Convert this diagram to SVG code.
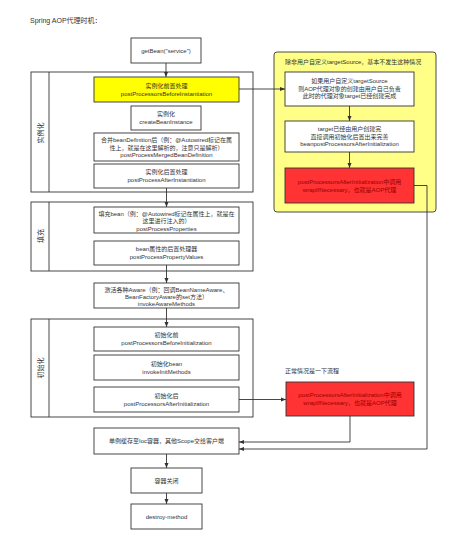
<svg xmlns="http://www.w3.org/2000/svg" width="474" height="542" viewBox="0 0 474 542">
<style>
text{font-family:"Liberation Sans","Noto Sans CJK SC",sans-serif;font-size:6px;fill:#333;text-anchor:middle}
.box{fill:#fff;stroke:#333;stroke-width:0.9}
.lane{fill:none;stroke:#333;stroke-width:0.9}
.yel{fill:#ffff00;stroke:#333;stroke-width:0.9}
.red{fill:#ff3333;stroke:#333;stroke-width:0.9}
.redt{fill:#990000}
.con{fill:none;stroke:#333;stroke-width:0.9}
.lbl{font-size:7px}
.left{text-anchor:start}
</style>
<defs>
<marker id="arr" viewBox="0 0 10 10" refX="10" refY="5" markerWidth="5" markerHeight="5" orient="auto" markerUnits="userSpaceOnUse">
<path d="M0,1 L10,5 L0,9 Z" fill="#333"/>
</marker>
</defs>
<rect width="474" height="542" fill="#fff"/>
<text x="30" y="23" class="left" style="font-size:7px">Spring AOP代理时机：</text>

<g id="lane-instantiate">
<rect class="lane" x="31" y="72" width="222" height="120"/>
<line class="lane" x1="49" y1="72" x2="49" y2="192"/>
<text class="lbl" transform="translate(42.5,133) rotate(-90)">实例化</text>
</g>
<g id="lane-populate">
<rect class="lane" x="31" y="202" width="222" height="69"/>
<line class="lane" x1="49" y1="202" x2="49" y2="271"/>
<text class="lbl" transform="translate(42.5,236) rotate(-90)">填充</text>
</g>
<g id="lane-init">
<rect class="lane" x="31" y="319" width="222" height="98"/>
<line class="lane" x1="49" y1="319" x2="49" y2="417"/>
<text class="lbl" transform="translate(42.5,368) rotate(-90)">初始化</text>
</g>

<g id="getBean">
<rect class="box" x="131" y="38" width="70" height="25"/>
<text x="166" y="52.5">getBean("service")</text>
</g>
<g id="beforeInstantiation">
<rect class="yel" x="94" y="77" width="145" height="25"/>
<text x="166.5" y="87.5">实例化前置处理</text>
<text x="166.5" y="95.5">postProcessorsBeforeInstantiation</text>
</g>
<g id="createBeanInstance">
<rect class="box" x="131" y="106" width="70" height="24"/>
<text x="166" y="116">实例化</text>
<text x="166" y="124">createBeanInstance</text>
</g>
<g id="mergedBeanDefinition">
<rect class="box" x="94" y="133" width="145" height="28"/>
<text x="166.5" y="142">合并beanDefinition后（例：@Autowired标记在属</text>
<text x="166.5" y="149.5">性上，就是在这里解析的，注意只是解析）</text>
<text x="166.5" y="157">postProcessMergedBeanDefinition</text>
</g>
<g id="afterInstantiation">
<rect class="box" x="94" y="164" width="145" height="24"/>
<text x="166.5" y="174">实例化后置处理</text>
<text x="166.5" y="182">postProcessAfterInstantiation</text>
</g>
<g id="populateBean">
<rect class="box" x="94" y="207" width="145" height="26"/>
<text x="166.5" y="215.5">填充bean（例：@Autowired标记在属性上，就是在</text>
<text x="166.5" y="223">这里进行注入的）</text>
<text x="166.5" y="230.5">postProcessProperties</text>
</g>
<g id="propertyValues">
<rect class="box" x="94" y="241" width="145" height="24"/>
<text x="166.5" y="251">bean属性的后置处理器</text>
<text x="166.5" y="259">postProcessPropertyValues</text>
</g>
<g id="invokeAwareMethods">
<rect class="box" x="94" y="283" width="145" height="25"/>
<text x="166.5" y="291.5">激活各种Aware（例：回调BeanNameAware、</text>
<text x="166.5" y="299">BeanFactoryAware的set方法）</text>
<text x="166.5" y="306">invokeAwareMethods</text>
</g>
<g id="beforeInitialization">
<rect class="box" x="94" y="327" width="145" height="24"/>
<text x="166.5" y="337">初始化前</text>
<text x="166.5" y="345">postProcessorsBeforeInitialization</text>
</g>
<g id="invokeInitMethods">
<rect class="box" x="94" y="355" width="145" height="25"/>
<text x="166.5" y="365.5">初始化bean</text>
<text x="166.5" y="373.5">invokeInitMethods</text>
</g>
<g id="afterInitialization">
<rect class="box" x="94" y="387" width="145" height="25"/>
<text x="166.5" y="397.5">初始化后</text>
<text x="166.5" y="405.5">postProcessorsAfterInitialization</text>
</g>
<g id="singleton">
<rect class="box" x="94" y="428" width="145" height="26"/>
<text x="166.5" y="443">单例缓存至Ioc容器，其他Scope交给客户端</text>
</g>
<g id="close">
<rect class="box" x="131" y="468" width="71" height="25"/>
<text x="166.5" y="482.5">容器关闭</text>
</g>
<g id="destroy">
<rect class="box" x="131" y="504" width="71" height="25"/>
<text x="166.5" y="518.5">destroy-method</text>
</g>

<g id="customTargetSource">
<rect x="274" y="52" width="162" height="160" rx="3" fill="#ffff88" stroke="#36393d" stroke-width="0.9"/>
<text x="285" y="64" class="left">除非用户自定义targetSource，基本不发生这种情况</text>
</g>
<g id="custom1">
<rect class="box" x="285" y="72" width="129" height="34"/>
<text x="349.5" y="83">如果用户自定义targetSource</text>
<text x="349.5" y="90.5">则AOP代理对象的创建由用户自己负责</text>
<text x="349.5" y="98">此时的代理对象target已经创建完成</text>
</g>
<g id="custom2">
<rect class="box" x="285" y="121" width="129" height="31"/>
<text x="349.5" y="131">target已经由用户创建完</text>
<text x="349.5" y="138.5">直接调用初始化后置出来完善</text>
<text x="349.5" y="146">beanpostProcessorsAfterInitialization</text>
</g>
<g id="red1">
<rect class="red" x="285" y="168" width="129" height="35"/>
<text class="redt" x="349.5" y="183.5">postProcessorsAfterInitialization中调用</text>
<text class="redt" x="349.5" y="191.5">wrapIfNecessary，也就是AOP代理</text>
</g>
<g id="normalLabel">
<text x="285" y="373" class="left">正常情况是一下流程</text>
</g>
<g id="red2">
<rect class="red" x="286" y="382" width="128" height="34"/>
<text class="redt" x="350" y="397">postProcessorsAfterInitialization中调用</text>
<text class="redt" x="350" y="405">wrapIfNecessary，也就是AOP代理</text>
</g>

<g id="connectors">
<line class="con" x1="166" y1="63" x2="166" y2="77" marker-end="url(#arr)"/>
<line class="con" x1="239" y1="89" x2="285" y2="89" marker-end="url(#arr)"/>
<line class="con" x1="349.5" y1="106" x2="349.5" y2="121" marker-end="url(#arr)"/>
<line class="con" x1="349.5" y1="152" x2="349.5" y2="168" marker-end="url(#arr)"/>
<polyline class="con" points="414,185.5 427,185.5 427,449 239,449" marker-end="url(#arr)"/>
<line class="con" x1="166.5" y1="188" x2="166.5" y2="207" marker-end="url(#arr)"/>
<line class="con" x1="166.5" y1="265" x2="166.5" y2="283" marker-end="url(#arr)"/>
<line class="con" x1="166.5" y1="308" x2="166.5" y2="327" marker-end="url(#arr)"/>
<line class="con" x1="239" y1="399.5" x2="286" y2="399.5" marker-end="url(#arr)"/>
<polyline class="con" points="350,416 350,442 239,442" marker-end="url(#arr)"/>
<line class="con" x1="166.5" y1="454" x2="166.5" y2="468" marker-end="url(#arr)"/>
<line class="con" x1="166.5" y1="493" x2="166.5" y2="504" marker-end="url(#arr)"/>
</g>
</svg>
